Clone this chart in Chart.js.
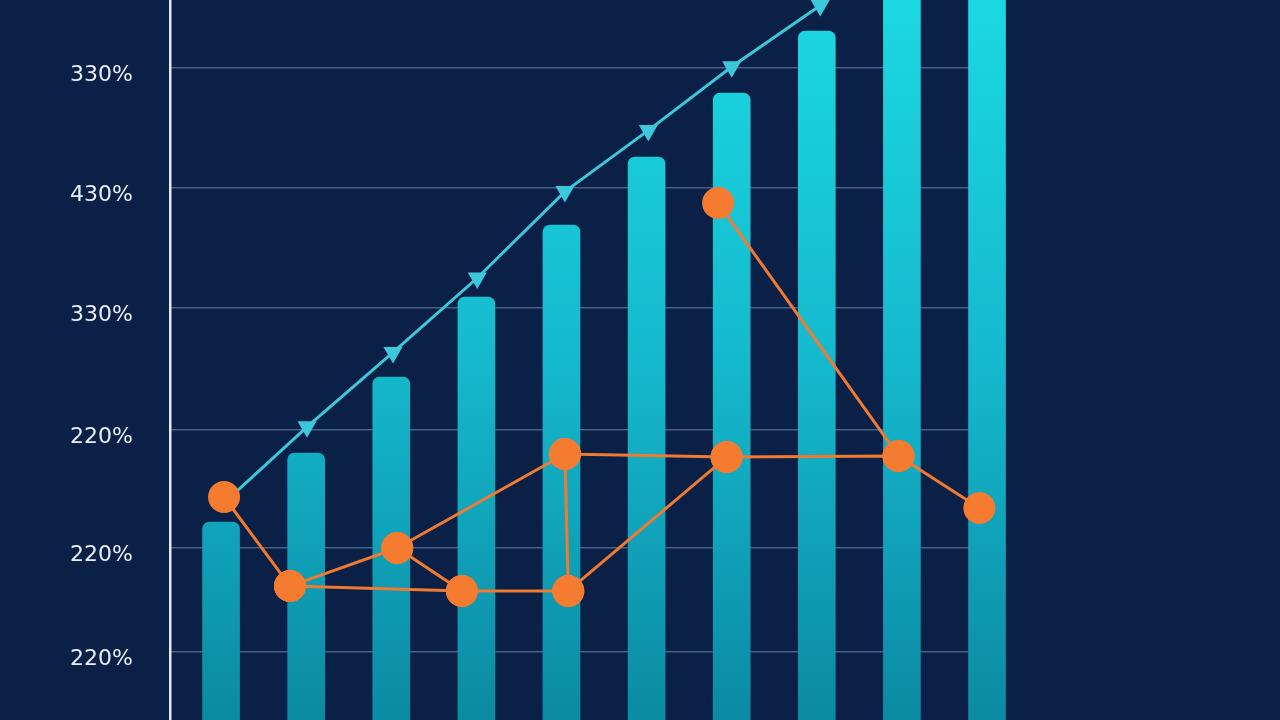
<!DOCTYPE html>
<html>
<head>
<meta charset="utf-8">
<title>Growth chart</title>
<script src="https://cdn.jsdelivr.net/npm/chart.js@4.4.1/dist/chart.umd.min.js"></script>
<style>
  html, body { margin: 0; padding: 0; background: #0a2046; overflow: hidden; }
  #growthChart { display: block; }
</style>
</head>
<body>
<canvas id="growthChart" width="1280" height="720"></canvas>
<script>
// Bars, one per category (x position = index)
const categories = ['1', '2', '3', '4', '5', '6', '7', '8', '9', '10'];
const barValues = [121.7, 179.2, 242.5, 309.2, 369.2, 425.8, 479.2, 530.8, 600, 620];

// Cyan trend line with triangle markers
const trendX = [0.01, 1.01, 2.02, 3.01, 4.04, 5.02, 6.0, 7.04];
const trendY = [136, 201, 263, 325, 397, 448, 501, 552];

// Orange nodes and the trails that join them
const orangeX = [0.035, 0.81, 2.07, 2.83, 4.04, 4.08, 5.84, 5.94, 7.96, 8.91];
const orangeY = [142.5, 68.3, 100, 64.2, 178.3, 64.2, 387.5, 175.8, 176.7, 133.3];
const orangeTrails = [
    [0, 1, 2, 3, 5, 4, 7, 8, 9],
    [1, 3],
    [2, 4],
    [5, 7],
    [6, 8]
];

// Y axis ticks and their (printed) labels
const tickValues = [13.3, 100, 198.3, 300, 400, 500];
const tickLabels = ['220%', '220%', '220%', '330%', '430%', '330%'];

const yMin = -43.33;
const yMax = 556.67;

function barGradient(context) {
    const chart = context.chart;
    const area = chart.chartArea;
    if (!area) return '#17c3d6';
    const g = chart.ctx.createLinearGradient(0, area.top, 0, area.bottom);
    g.addColorStop(0, '#1cd8e2');
    g.addColorStop(0.5, '#15b9cd');
    g.addColorStop(1, '#0b8aa3');
    return g;
}

const orangeDatasets = orangeTrails.map(trail => ({
    type: 'line',
    data: trail.map(i => ({ x: orangeX[i], y: orangeY[i] })),
    borderColor: '#f27a30',
    borderWidth: 3,
    backgroundColor: '#f47b30',
    pointBackgroundColor: '#f47b30',
    pointBorderWidth: 0,
    pointRadius: 16,
    tension: 0,
    fill: false,
    order: 0
}));

const ctx = document.getElementById('growthChart');
new Chart(ctx, {
    type: 'bar',
    data: {
        datasets: [
            {
                type: 'bar',
                data: barValues.map((v, i) => ({ x: i, y: v })),
                backgroundColor: barGradient,
                barThickness: 37,
                base: yMin,
                borderRadius: { topLeft: 7, topRight: 7, bottomLeft: 0, bottomRight: 0 },
                borderSkipped: false,
                order: 2
            },
            {
                type: 'line',
                data: trendX.map((x, i) => ({ x: x, y: trendY[i] })),
                borderColor: '#3cc8da',
                borderWidth: 3,
                pointStyle: 'triangle',
                pointRotation: 180,
                pointRadius: [0, 11, 11, 11, 11, 11, 11, 11],
                pointBackgroundColor: '#3cc8da',
                pointBorderWidth: 0,
                tension: 0,
                fill: false,
                order: 1
            },
            ...orangeDatasets
        ]
    },
    options: {
        responsive: false,
        animation: false,
        devicePixelRatio: 1,
        layout: {
            autoPadding: false,
            padding: { left: 0, right: 274, top: 0, bottom: 0 }
        },
        plugins: {
            legend: { display: false },
            tooltip: { enabled: false }
        },
        scales: {
            x: {
                type: 'linear',
                display: false,
                offset: false,
                min: -0.6,
                max: 9.223
            },
            y: {
                type: 'linear',
                min: yMin,
                max: yMax,
                afterBuildTicks: scale => {
                    scale.ticks = tickValues.map(v => ({ value: v }));
                },
                afterFit: scale => {
                    scale.width = 170;
                    scale.paddingTop = 0;
                    scale.paddingBottom = 0;
                },
                ticks: {
                    callback: (value, index) => tickLabels[index],
                    color: '#e6edf5',
                    font: { family: 'DejaVu Sans', size: 22 },
                    padding: 37,
                    labelOffset: 7
                },
                grid: {
                    color: 'rgba(110, 140, 180, 0.6)',
                    lineWidth: 1.5,
                    drawTicks: false
                },
                border: {
                    display: true,
                    color: '#e3eaf2',
                    width: 2.5
                }
            }
        }
    }
});
</script>
</body>
</html>
